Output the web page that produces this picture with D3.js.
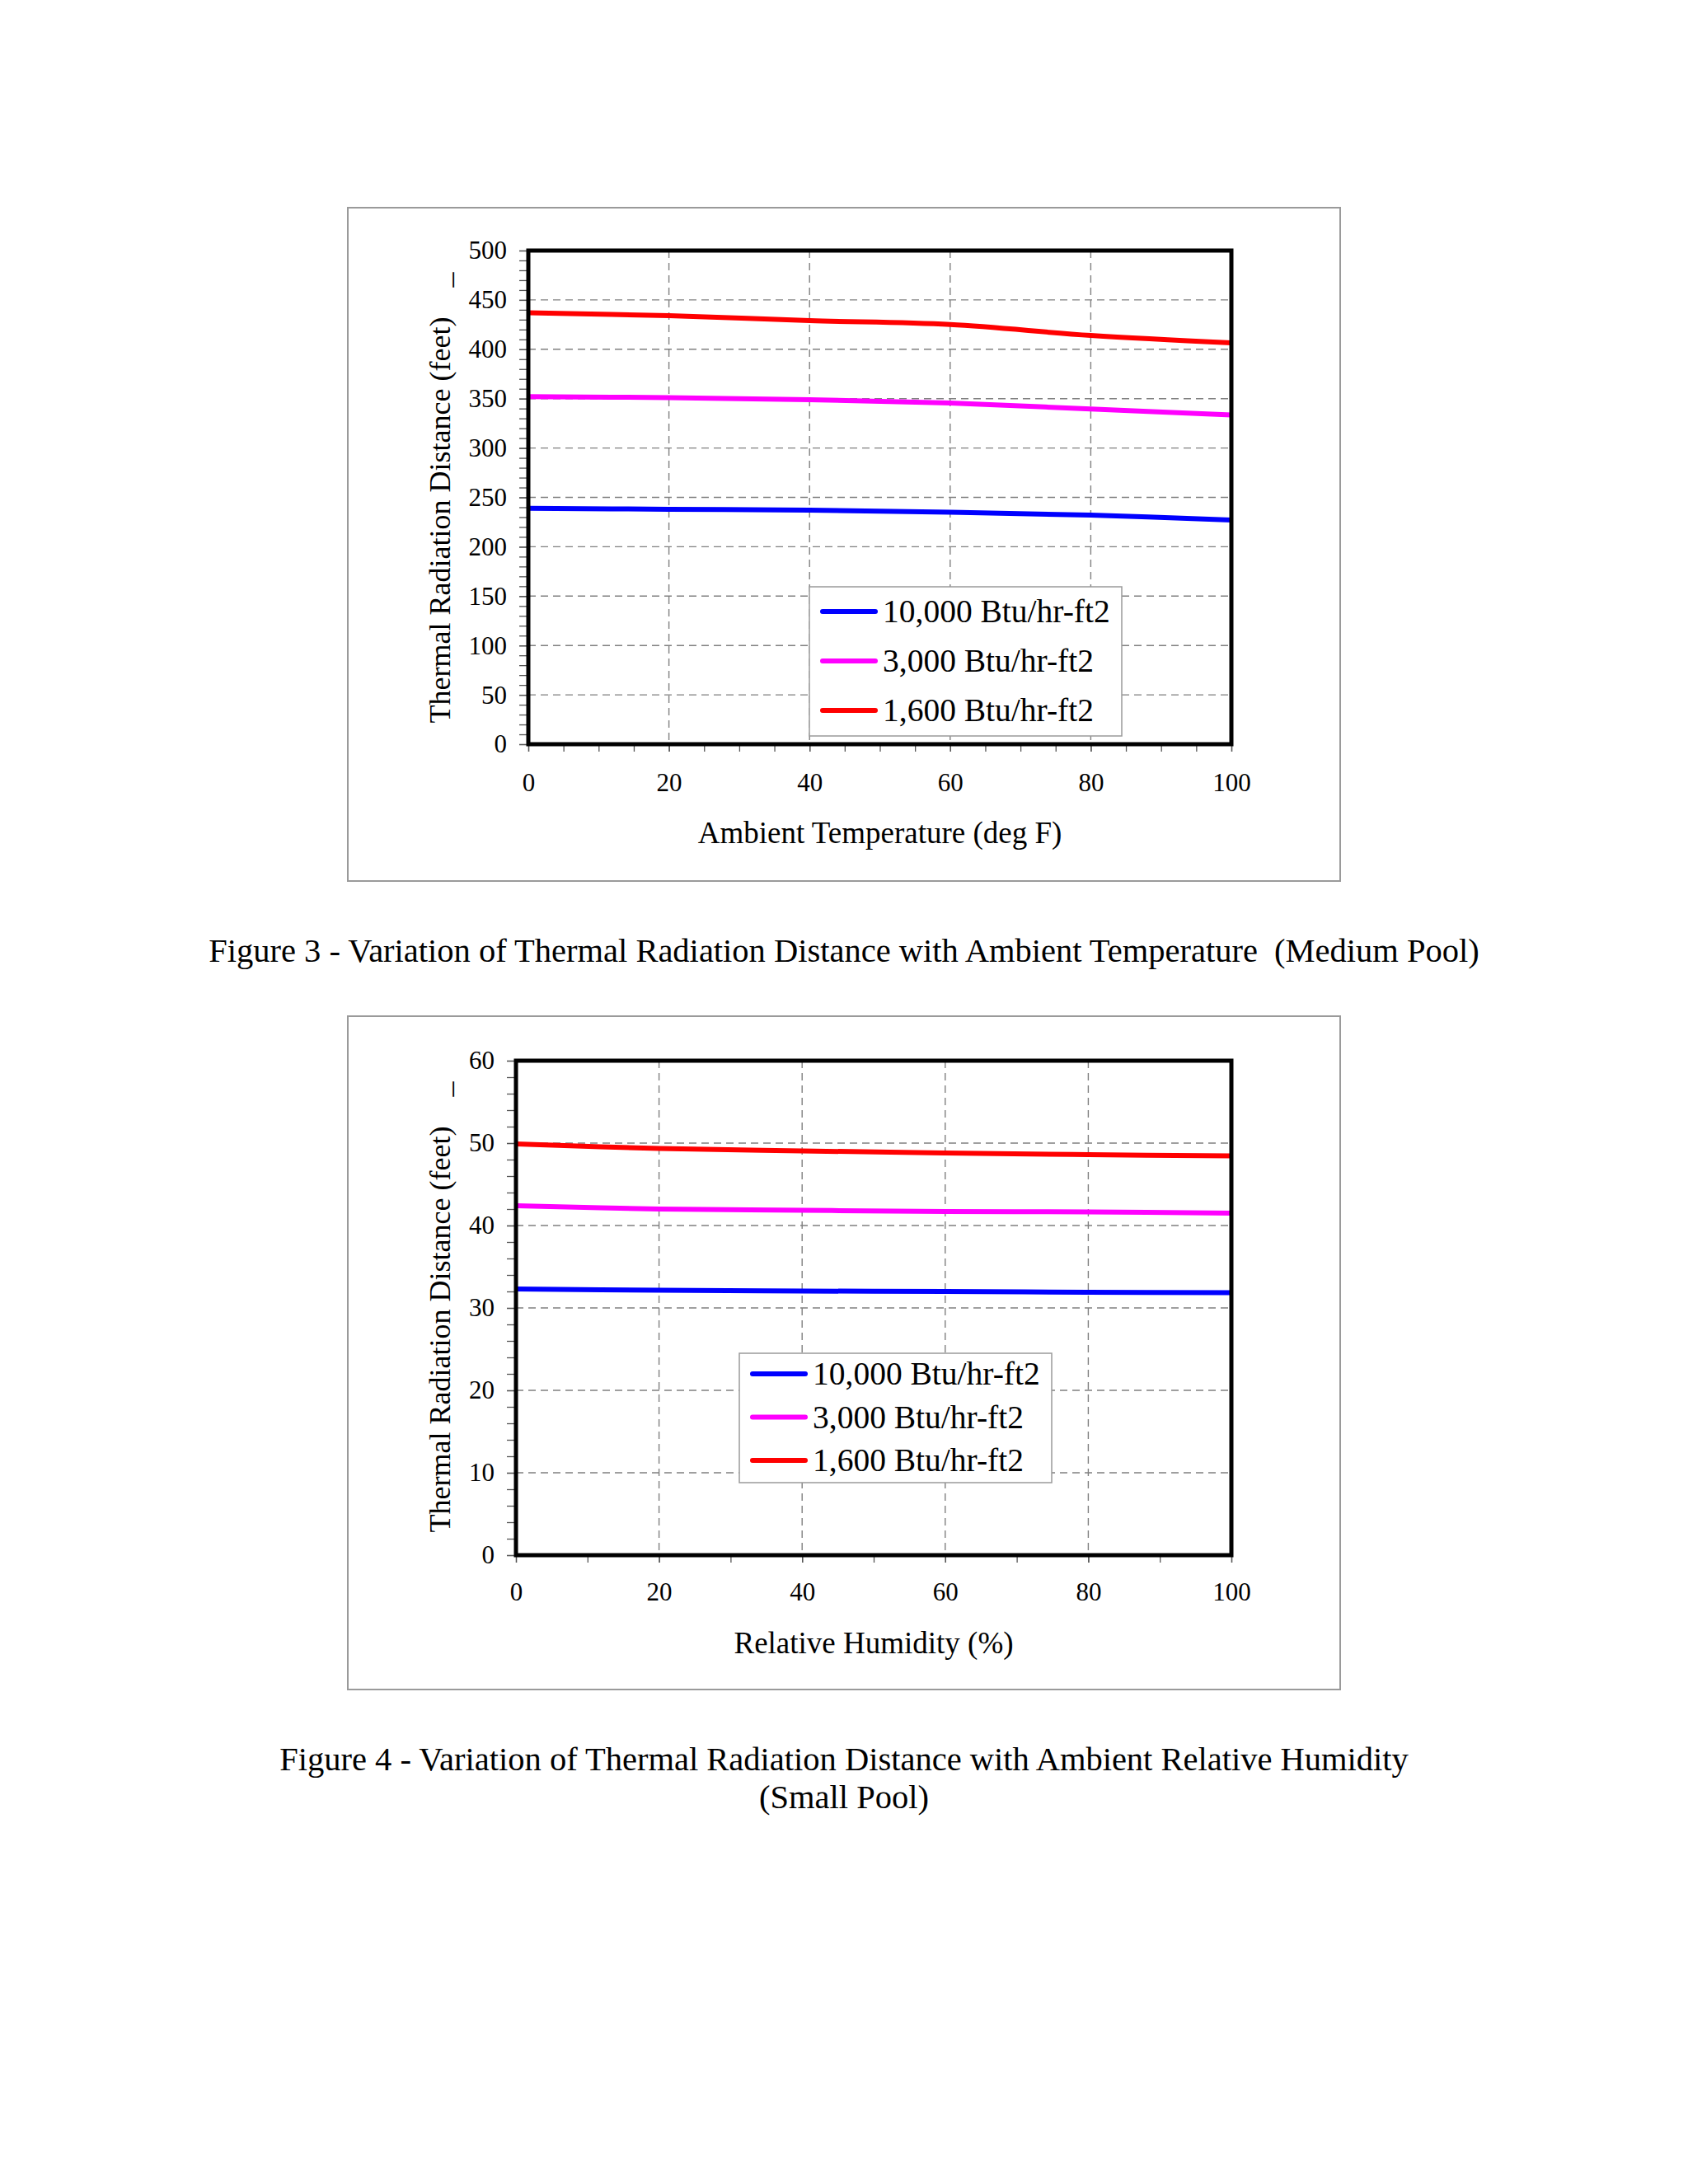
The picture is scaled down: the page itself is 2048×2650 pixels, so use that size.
<!DOCTYPE html>
<html>
<head>
<meta charset="utf-8">
<script src="https://cdn.jsdelivr.net/npm/d3@7"></script>
<style>
  body { margin: 0; background: #fff; }
  svg text { font-family: "Liberation Serif", "Times New Roman", serif !important; fill: #000; }
</style>
</head>
<body>
<div id="svg"></div>
<script>
// values
const tempX = [0, 20, 40, 60, 80, 100]
const temp10000 = [239, 238, 237, 235, 232, 227]
const temp3000 = [352, 351, 349, 345.5, 339.5, 333.5]
const temp1600 = [437, 434, 429, 425, 414, 406.5]

const humidX = [0, 20, 40, 60, 80, 100]
const humid10000 = [32.3, 32.15, 32.05, 32.0, 31.9, 31.85]
const humid3000 = [42.4, 42.0, 41.85, 41.7, 41.65, 41.5]
const humid1600 = [49.9, 49.35, 49.05, 48.8, 48.6, 48.45]

const seriesNames = ['10,000 Btu/hr-ft2', '3,000 Btu/hr-ft2', '1,600 Btu/hr-ft2']
const seriesColors = ['#0000ff', '#ff00ff', '#ff0000']

const xTicks = [0, 20, 40, 60, 80, 100]
const tempYTicks = [0, 50, 100, 150, 200, 250, 300, 350, 400, 450, 500]
const humidYTicks = [0, 10, 20, 30, 40, 50, 60]

const yTitle = 'Thermal Radiation Distance (feet)    _'

const serif = '"Liberation Serif", "Times New Roman", serif'

const svg = d3.select('#svg')
  .append('svg')
    .attr('width', 2048)
    .attr('height', 2650)

svg.append('rect')
  .attr('width', 2048)
  .attr('height', 2650)
  .attr('fill', '#fff')

function drawChart(cfg) {
  const x = d3.scaleLinear().domain([0, 100]).range([cfg.left, cfg.right])
  const y = d3.scaleLinear().domain(cfg.yDomain).range([cfg.bottom, cfg.top])

  // outer frame
  svg.append('rect')
    .attr('x', cfg.box[0]).attr('y', cfg.box[1])
    .attr('width', cfg.box[2]).attr('height', cfg.box[3])
    .attr('fill', 'none')
    .attr('stroke', '#9a9a9a')
    .attr('stroke-width', 2)

  const g = svg.append('g')

  // dashed grid
  g.append('g')
    .selectAll('line')
    .data(cfg.yTicks.filter(d => d > cfg.yDomain[0] && d < cfg.yDomain[1]))
    .enter()
    .append('line')
      .attr('x1', cfg.left).attr('x2', cfg.right)
      .attr('y1', d => y(d)).attr('y2', d => y(d))
      .attr('stroke', '#808080')
      .attr('stroke-width', 1.4)
      .attr('stroke-dasharray', '9,6')

  g.append('g')
    .selectAll('line')
    .data(cfg.xTicks.filter(d => d > 0 && d < 100))
    .enter()
    .append('line')
      .attr('x1', d => x(d)).attr('x2', d => x(d))
      .attr('y1', cfg.top).attr('y2', cfg.bottom)
      .attr('stroke', '#808080')
      .attr('stroke-width', 1.4)
      .attr('stroke-dasharray', '9,6')

  // minor ticks
  g.append('g')
    .attr('transform', `translate(0, ${cfg.bottom})`)
    .call(d3.axisBottom(x).tickValues(d3.range(0, 100.01, cfg.xMinor)).tickSize(9).tickFormat(''))
  g.append('g')
    .attr('transform', `translate(${cfg.left}, 0)`)
    .call(d3.axisLeft(y).tickValues(d3.range(cfg.yDomain[0], cfg.yDomain[1] + 0.01, cfg.yMinor)).tickSize(11).tickFormat(''))

  // major ticks and labels
  const bottomAxis = g.append('g')
    .attr('transform', `translate(0, ${cfg.bottom})`)
    .call(d3.axisBottom(x).tickValues(cfg.xTicks).tickSize(9).tickPadding(cfg.xPad))
  const leftAxis = g.append('g')
    .attr('transform', `translate(${cfg.left}, 0)`)
    .call(d3.axisLeft(y).tickValues(cfg.yTicks).tickSize(11).tickPadding(15))

  g.selectAll('.domain').remove()
  g.selectAll('.tick line').attr('stroke', '#555').attr('stroke-width', 1.3)
  bottomAxis.attr('font-family', serif).attr('font-size', 31)
  leftAxis.attr('font-family', serif).attr('font-size', 31)
  bottomAxis.selectAll('text').style('font-size', '31px')
  leftAxis.selectAll('text').style('font-size', '31px')

  // series
  const line = d3.line()
    .x(d => x(d[0]))
    .y(d => y(d[1]))
    .curve(d3.curveCatmullRom.alpha(0))

  cfg.series.forEach((vals, i) => {
    g.append('path')
      .datum(cfg.xs.map((v, j) => [v, vals[j]]))
      .attr('d', line)
      .attr('fill', 'none')
      .attr('stroke', seriesColors[i])
      .attr('stroke-width', 6)
  })

  // plot frame
  g.append('rect')
    .attr('x', cfg.left).attr('y', cfg.top)
    .attr('width', cfg.right - cfg.left).attr('height', cfg.bottom - cfg.top)
    .attr('fill', 'none')
    .attr('stroke', '#000')
    .attr('stroke-width', 5)

  // legend
  const lg = g.append('g').attr('transform', `translate(${cfg.legend[0]}, ${cfg.legend[1]})`)
  lg.append('rect')
    .attr('width', cfg.legend[2]).attr('height', cfg.legend[3])
    .attr('fill', '#fff')
    .attr('stroke', '#9a9a9a')
    .attr('stroke-width', 1.5)
  seriesNames.forEach((name, i) => {
    const ry = cfg.legendRow0 + i * cfg.legendStep
    lg.append('line')
      .attr('x1', 16).attr('x2', 80)
      .attr('y1', ry).attr('y2', ry)
      .attr('stroke', seriesColors[i])
      .attr('stroke-width', 6)
      .attr('stroke-linecap', 'round')
    lg.append('text')
      .attr('x', 89).attr('y', ry + 13)
      .attr('font-size', 39.5)
      .text(name)
  })

  // axis titles
  svg.append('text')
    .attr('x', (cfg.left + cfg.right) / 2)
    .attr('y', cfg.xTitleY)
    .attr('text-anchor', 'middle')
    .attr('font-size', 37)
    .text(cfg.xTitle)

  svg.append('text')
    .attr('transform', `translate(546, ${cfg.yTitleMid}) rotate(-90)`)
    .attr('text-anchor', 'middle')
    .attr('font-size', 36)
    .style('white-space', 'pre')
    .text(yTitle)

  // caption
  cfg.caption.forEach((c, i) => {
    svg.append('text')
      .attr('x', 1024)
      .attr('y', cfg.captionY + i * 46)
      .attr('text-anchor', 'middle')
      .attr('font-size', 40.5)
      .style('white-space', 'pre')
      .text(c)
  })
}

drawChart({
  box: [422, 252, 1204, 817],
  left: 641, right: 1494, top: 304, bottom: 903,
  yDomain: [0, 500], yTicks: tempYTicks, yMinor: 10,
  xTicks: xTicks, xMinor: 5, xPad: 26,
  xs: tempX, series: [temp10000, temp3000, temp1600],
  legend: [982, 712, 379, 181], legendRow0: 30, legendStep: 60,
  xTitle: 'Ambient Temperature (deg F)', xTitleY: 1023,
  yTitleMid: 604,
  caption: ['Figure 3 - Variation of Thermal Radiation Distance with Ambient Temperature  (Medium Pool)'],
  captionY: 1167
})

drawChart({
  box: [422, 1233, 1204, 817],
  left: 626, right: 1494, top: 1287, bottom: 1887,
  yDomain: [0, 60], yTicks: humidYTicks, yMinor: 2,
  xTicks: xTicks, xMinor: 10, xPad: 24,
  xs: humidX, series: [humid10000, humid3000, humid1600],
  legend: [897, 1642, 379, 157], legendRow0: 25, legendStep: 52.5,
  xTitle: 'Relative Humidity (%)', xTitleY: 2006,
  yTitleMid: 1586,
  caption: ['Figure 4 - Variation of Thermal Radiation Distance with Ambient Relative Humidity', '(Small Pool)'],
  captionY: 2148
})
</script>
</body>
</html>
